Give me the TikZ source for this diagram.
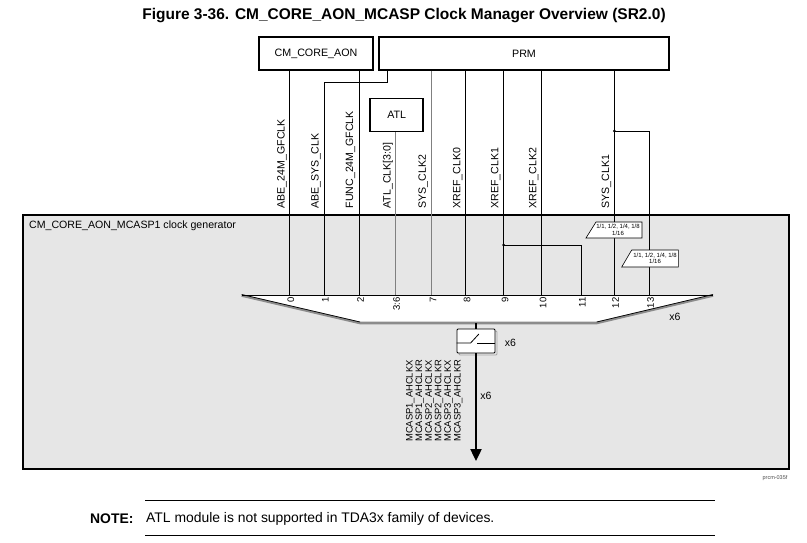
\documentclass[tikz,border=0pt]{standalone}
\usepackage{fontspec}
\setmainfont{Liberation Sans}
\usetikzlibrary{arrows.meta}
\definecolor{boxgray}{RGB}{230,230,230}
\begin{document}
\begin{tikzpicture}[x=1pt,y=-1pt,
  blk/.style={draw,fill=white,line width=1.6pt,inner sep=0pt,font=\fontsize{10.7}{12}\selectfont},
  sig/.style={line width=0.8pt},
  gsig/.style={line width=0.9pt,draw=black!50},
  lbl/.style={rotate=90,anchor=west,inner sep=0pt,font=\fontsize{10.6}{12}\selectfont},
  num/.style={rotate=90,anchor=east,inner sep=0pt,font=\fontsize{9.5}{11}\selectfont},
  mc/.style={rotate=90,anchor=west,inner sep=0pt,font=\fontsize{9.4}{11}\selectfont},
  divtxt/.style={align=center,inner sep=0pt,font=\fontsize{6}{6.6}\selectfont},
  divbox/.style={draw,fill=white,line width=0.6pt},
  xsix/.style={inner sep=0pt,font=\fontsize{10.5}{12}\selectfont},
  jdot/.style={circle,fill,inner sep=0pt,minimum size=3pt}
]
\useasboundingbox (0,0) rectangle (807,543);

% title
\node[font=\bfseries\fontsize{15.5}{17}\selectfont] (title) at (404,16)
  {Figure 3-36. CM\_CORE\_AON\_MCASP Clock Manager Overview (SR2.0)};

% generator box
\node[draw,fill=boxgray,line width=2.5pt,minimum width=766pt,minimum height=254pt,inner sep=0pt] (gen) at (406,342) {};
\node[anchor=west,inner sep=0pt,font=\fontsize{10.6}{12}\selectfont] (genlbl) at (29,225.7) {CM\_CORE\_AON\_MCASP1 clock generator};

% source boxes
\node[blk,minimum width=114pt,minimum height=33pt] (cm) at (316,53.5) {CM\_CORE\_AON};
\node[blk,minimum width=290pt,minimum height=33pt] (prm) at (524,53.5) {PRM};
\node[blk,minimum width=53pt,minimum height=33pt] (atl) at (396.7,115) {ATL};

% mux geometry
\coordinate (mTL) at (241.7,295.5);
\coordinate (mTR) at (713,295.5);
\coordinate (mBR) at (596.7,323);
\coordinate (mBL) at (360,323);
\coordinate (mout) at (476,323);
\coordinate (m0) at (289.3,295.5);
\coordinate (m1) at (324,295.5);
\coordinate (m2) at (359.3,295.5);
\coordinate (m3) at (395.3,295.5);
\coordinate (m7) at (431.7,295.5);
\coordinate (m8) at (465.7,295.5);
\coordinate (m9) at (503.7,295.5);
\coordinate (m10) at (541.7,295.5);
\coordinate (m11) at (581,295.5);
\coordinate (m12) at (614.3,295.5);
\coordinate (m13) at (649.3,295.5);

% connectors
\draw[sig] (m0 |- cm.south) -- (m0);
\coordinate (k1) at (387.3,82.7);
\draw[sig] (k1 |- prm.south) -- (k1) -| (m1);
\draw[sig] (m2 |- cm.south) -- (m2);
\draw[gsig] (m3 |- atl.south) -- (m3);
\draw[gsig] (m7 |- prm.south) -- (m7);
\draw[sig] (m8 |- prm.south) -- (m8);
\draw[sig] (m9 |- prm.south) -- (m9);
\coordinate (j2) at (503.7,245);
\draw[sig] (j2) -| (m11);
\node[jdot] (dj2) at (j2) {};
\draw[sig] (m10 |- prm.south) -- (m10);
\draw[sig] (m12 |- prm.south) -- (m12);
\coordinate (j1) at (614.3,131);
\draw[sig] (j1) -| (m13);
\node[jdot] (dj1) at (j1) {};

% top labels
\node[lbl] (l0) at (282,208.5) {ABE\_24M\_GFCLK};
\node[lbl] (l1) at (316,208.5) {ABE\_SYS\_CLK};
\node[lbl] (l2) at (350.5,208.5) {FUNC\_24M\_GFCLK};
\node[lbl] (l3) at (388,208.5) {ATL\_CLK[3:0]};
\node[lbl] (l7) at (423.3,208.5) {SYS\_CLK2};
\node[lbl] (l8) at (457.7,208.5) {XREF\_CLK0};
\node[lbl] (l9) at (495.8,208.5) {XREF\_CLK1};
\node[lbl] (l10) at (533.7,208.5) {XREF\_CLK2};
\node[lbl] (l12) at (606.5,208.5) {SYS\_CLK1};

% dividers
\draw[divbox] (586,238) -- (596,222) -- (642,222) -- (642,238) -- cycle;
\node[divtxt] (d1) at (618,230) {1/1, 1/2, 1/4, 1/8\\1/16};
\draw[divbox] (621.7,267) -- (631.7,250) -- (678.3,250) -- (678.3,267) -- cycle;
\node[divtxt] (d2) at (655,258.5) {1/1, 1/2, 1/4, 1/8\\1/16};

% mux
\fill[white] (mTL) -- (mTR) -- (mBR) -- (mBL) -- cycle;
\draw[black!45,line width=2.6pt,line join=round] (mTL) -- (mBL) -- (mBR) -- (mTR);
\draw[black,line width=0.7pt] ([yshift=1pt]mTL) -- ([yshift=1pt]mBL) ([yshift=1pt]mBR) -- ([yshift=1pt]mTR);
\draw[black,line width=1.2pt] (mTL) -- (mTR);

% mux input numbers
\node[num] (n0) at (290.8,297.5) {0};
\node[num] (n1) at (325.3,297.5) {1};
\node[num] (n2) at (360.6,297.5) {2};
\node[num] (n3) at (396.6,297.5) {3:6};
\node[num] (n7) at (433,297.5) {7};
\node[num] (n8) at (467,297.5) {8};
\node[num] (n9) at (505,297.5) {9};
\node[num] (n10) at (543,297.5) {10};
\node[num] (n11) at (582.3,297.5) {11};
\node[num] (n12) at (615.6,297.5) {12};
\node[num] (n13) at (650.6,297.5) {13};
\node[xsix] (x6a) at (675,317) {x6};

% switch
\draw[black!35,line width=0.9pt,rounded corners=1pt] (459,331) rectangle (497,355);
\node[draw,fill=white,line width=0.8pt,rounded corners=1pt,minimum width=38pt,minimum height=24pt,inner sep=0pt] (sw) at (476,341) {};
\draw[sig] ([yshift=-2pt]sw.west) -- ++(14,0) -- ++(8.3,-9);
\draw[sig] ([yshift=-2pt]sw.east) -- ++(-18,0);
\node[xsix] (x6b) at (510.5,342.5) {x6};
\draw[line width=2.4pt] (mout) -- (sw.north);
\coordinate (out) at (476,461);
\draw[line width=2.4pt,-{Triangle[length=12pt,width=11pt]}] (sw.south) -- (out);
\node[xsix] (x6c) at (486,396) {x6};

% output labels
\foreach \t [count=\i] in {MCASP1\_AHCLKX,MCASP1\_AHCLKR,MCASP2\_AHCLKX,MCASP2\_AHCLKR,MCASP3\_AHCLKX,MCASP3\_AHCLKR}
  \node[mc] (mc\i) at ({400.6+9.6*\i},442) {\t};

% figure id
\node[inner sep=0pt,text=black!70,font=\fontsize{5.5}{6}\selectfont] (fid) at (775,478) {prcm-035f};

% note
\coordinate (na) at (145,500);
\coordinate (nb) at (715,500);
\coordinate (nc) at (145,535);
\coordinate (nd) at (715,535);
\draw[line width=0.9pt] (na) -- (nb);
\draw[line width=0.9pt] (nc) -- (nd);
\node[anchor=west,inner sep=0pt,font=\bfseries\fontsize{13.9}{15}\selectfont] (note) at (90,519) {NOTE:};
\node[anchor=west,inner sep=0pt,font=\fontsize{13.9}{15}\selectfont] (notetxt) at (146,519) {ATL module is not supported in TDA3x family of devices.};
\end{tikzpicture}
\end{document}
